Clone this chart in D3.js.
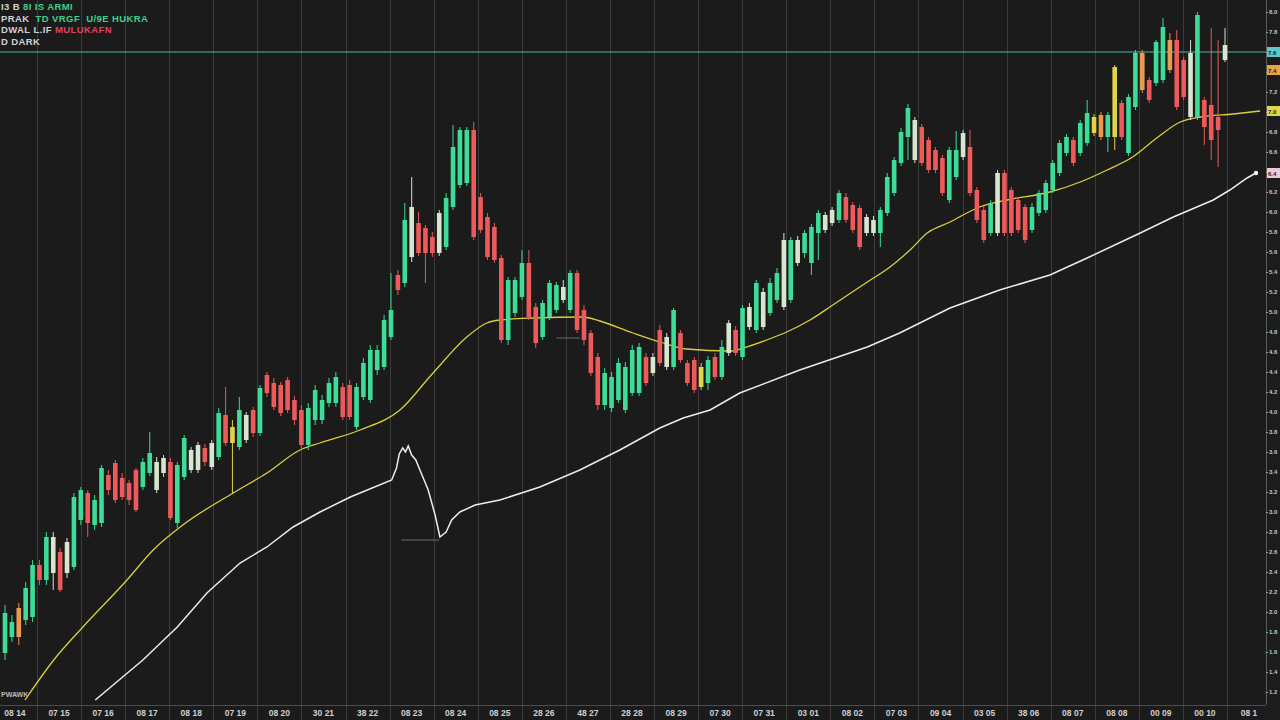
<!DOCTYPE html>
<html><head><meta charset="utf-8">
<script src="https://cdn.jsdelivr.net/npm/d3@7"></script>
<style>html,body{margin:0;padding:0;background:#1b1b1b;overflow:hidden}</style>
</head><body><svg id="c" width="1280" height="720"></svg>
<script>
// ---------- DATA ----------
const candleOpen=[
1.59,1.75,1.75,1.92,1.95,2.47,2.32,2.39,2.60,2.39,
2.45,2.92,3.19,2.87,2.89,3.37,3.49,3.34,3.29,3.42,
3.25,3.39,3.22,3.39,3.50,2.89,3.35,3.42,3.42,3.64,
3.45,3.55,3.97,3.69,3.65,3.72,4.02,3.79,4.37,4.29,
4.27,4.32,4.12,4.02,3.67,3.92,3.92,4.09,4.09,4.25,
4.27,3.85,4.15,4.12,4.42,4.45,4.75,5.37,5.29,5.55,
5.89,5.84,5.75,5.59,5.65,6.05,6.27,6.29,6.82,6.15,
5.95,5.85,5.54,4.72,4.99,5.15,5.49,5.05,4.75,4.95,
5.02,5.12,5.02,5.39,5.02,4.79,4.55,4.07,4.04,4.12,
4.02,4.19,4.19,4.55,4.39,4.82,4.45,4.45,4.79,4.49,
4.52,4.25,4.29,4.55,4.35,4.59,4.82,4.55,4.85,4.82,
4.85,4.99,5.12,5.05,5.12,5.49,5.59,5.49,5.79,5.82,
5.89,5.92,6.15,6.07,6.04,5.79,5.79,5.79,5.99,6.19,
6.49,6.75,6.92,6.85,6.72,6.62,6.54,6.12,6.35,6.55,
6.65,6.22,6.02,5.79,5.79,6.39,6.22,6.12,6.05,5.82,
5.99,6.02,6.22,6.39,6.59,6.72,6.59,6.69,6.79,6.97,
6.75,6.75,7.09,6.59,7.05,7.59,7.32,7.29,7.32,7.72,
7.72,7.52,6.95,6.95,7.12,7.07,6.95,7.52];
const candleHigh=[
2.07,1.97,2.09,2.30,2.52,2.52,2.80,2.80,2.64,2.74,
3.19,3.25,3.22,3.17,3.47,3.42,3.52,3.39,3.32,3.44,
3.54,3.80,3.55,3.57,3.54,3.50,3.77,3.65,3.70,3.68,
3.72,4.04,4.25,3.92,4.15,4.00,4.05,4.27,4.40,4.34,
4.30,4.35,4.16,4.07,4.09,4.27,4.17,4.34,4.40,4.29,
4.32,4.29,4.54,4.67,4.67,4.97,5.39,5.42,6.09,6.35,
6.00,5.87,5.80,6.02,6.19,6.87,6.85,6.85,6.90,6.19,
5.99,5.89,5.57,5.35,5.35,5.62,5.62,5.09,5.12,5.32,
5.30,5.32,5.42,5.42,5.07,4.82,4.59,4.44,4.40,4.54,
4.50,4.67,4.69,4.59,4.59,4.87,4.79,5.04,4.82,4.52,
4.55,4.49,4.56,4.59,4.72,4.92,4.86,5.07,5.09,5.32,
5.24,5.34,5.44,5.79,5.75,5.76,5.82,5.88,6.02,6.00,
6.05,6.22,6.19,6.10,6.07,5.98,5.96,6.05,6.39,6.55,
6.84,7.08,6.95,6.88,6.75,6.65,6.57,6.65,6.81,6.82,
6.82,6.25,6.06,6.12,6.42,6.42,6.25,6.15,6.08,6.09,
6.22,6.32,6.52,6.72,6.78,6.75,6.92,7.12,6.98,7.00,
7.00,7.47,7.12,7.18,7.62,7.62,7.35,7.72,7.94,7.79,
7.82,7.55,7.72,8.00,7.15,7.84,7.72,7.84];
const candleLow=[
1.52,1.70,1.67,1.87,1.90,2.27,2.27,2.22,2.20,2.34,
2.42,2.87,2.75,2.82,2.85,3.17,3.09,3.12,3.07,3.00,
3.22,3.36,3.19,3.35,2.92,2.84,3.32,3.39,3.39,3.46,
3.42,3.52,3.66,3.19,3.62,3.69,3.75,3.76,4.15,4.02,
3.96,3.99,3.87,3.64,3.62,3.87,3.88,4.05,4.05,3.92,
3.92,3.82,4.12,4.09,4.37,4.42,4.72,5.17,5.25,5.50,
5.56,5.29,5.55,5.56,5.62,6.02,6.24,6.26,5.72,5.79,
5.52,5.49,4.69,4.67,4.95,5.12,4.92,4.64,4.72,4.92,
4.99,5.09,4.99,4.79,4.67,4.36,4.02,4.02,4.00,4.09,
3.99,4.16,4.16,4.26,4.36,4.46,4.42,4.42,4.49,4.26,
4.19,4.22,4.22,4.32,4.32,4.56,4.56,4.52,4.82,4.79,
4.82,4.96,5.09,5.02,5.09,5.46,5.54,5.37,5.52,5.79,
5.86,5.89,5.89,5.79,5.62,5.76,5.76,5.65,5.96,6.16,
6.46,6.52,6.49,6.46,6.39,6.39,6.16,6.09,6.32,6.52,
6.16,5.89,5.69,5.76,5.76,5.76,5.76,5.79,5.69,5.79,
5.96,5.99,6.19,6.36,6.56,6.46,6.56,6.66,6.76,6.72,
6.60,6.62,6.72,6.56,7.02,7.19,7.09,7.26,7.29,7.39,
7.02,7.12,6.92,6.92,6.67,6.52,6.45,7.50];
const candleClose=[
1.99,1.90,2.04,2.24,2.47,2.32,2.75,2.75,2.22,2.70,
3.15,3.22,2.89,3.12,3.44,3.22,3.12,3.15,3.12,3.02,
3.50,3.59,3.50,3.54,2.94,3.47,3.74,3.62,3.67,3.50,
3.69,3.99,3.69,3.85,4.02,3.97,3.79,4.24,4.19,4.05,
3.99,4.02,3.92,3.67,4.04,4.22,4.12,4.29,4.35,3.95,
3.95,4.25,4.49,4.62,4.62,4.92,5.02,5.22,5.92,6.05,
5.59,5.59,5.59,5.99,6.14,6.65,6.82,6.82,5.75,5.82,
5.55,5.52,4.72,5.32,5.32,5.49,4.95,4.69,5.09,5.29,
5.27,5.25,5.39,4.82,4.72,4.39,4.07,4.39,4.35,4.49,
4.45,4.62,4.65,4.29,4.55,4.49,4.75,5.02,4.52,4.29,
4.22,4.45,4.52,4.35,4.65,4.89,4.59,5.04,5.05,5.29,
5.20,5.29,5.39,5.72,5.72,5.72,5.79,5.85,5.99,5.97,
6.02,6.19,5.92,5.82,5.65,5.95,5.92,6.02,6.35,6.52,
6.80,7.04,6.52,6.49,6.42,6.42,6.19,6.62,6.62,6.79,
6.19,5.92,5.72,6.09,6.39,5.79,5.79,5.82,5.72,6.05,
6.19,6.29,6.49,6.69,6.75,6.49,6.89,6.99,6.95,6.75,
6.97,7.45,6.75,7.15,7.59,7.22,7.12,7.70,7.85,7.42,
7.05,7.15,7.59,7.97,6.85,6.72,6.82,7.67];
// candle category: g=up r=down w=neutral y=alert o=warning
const candleKind=
"ggoggrgwrw"+"ggrggrrrrr"+"ggwwrggwwr"+"wgrygwrgrr"+"rrrrgggggr"+
"rggggggrgw"+"rrrwggggrr"+"rrrgggrrgg"+"gwgrrrrggg"+"gggrwrwgrr"+
"rygrgwrgwg"+"wggwgwgggw"+"wgrrrwwggg"+"ggwrrrrggw"+"rrrgwrrrrg"+
"gggggrggyo"+"gyrggorggo"+"rrwgrrrw";

// moving averages as [session, value]
const fastAverage=[[2.9,1.12],[7.3,1.54],[11.3,1.85],[17.7,2.32],[21.5,2.62],[25.8,2.87],[33.1,3.19],[38.0,3.39],[42.8,3.62],[45.7,3.69],[51.5,3.82],[57.3,4.02],[62.1,4.39],[67.0,4.75],[69.9,4.89],[71.8,4.92],[76.6,4.94],[83.9,4.95],[86.3,4.91],[91.1,4.79],[95.5,4.69],[98.9,4.63],[105.2,4.61],[107.1,4.64],[110.5,4.72],[113.4,4.80],[116.8,4.92],[120.1,5.07],[125.1,5.30],[128.4,5.45],[131.3,5.62],[133.8,5.79],[137.1,5.90],[141.4,6.05],[145.4,6.12],[151.6,6.20],[156.0,6.30],[159.9,6.42],[163.6,6.55],[167.1,6.74],[170.5,6.90],[173.4,6.95],[178.2,6.98],[182.1,7.01]];
const slowAverage=[[13.1,1.12],[20.0,1.52],[25.0,1.85],[29.3,2.19],[34.1,2.49],[38.0,2.65],[41.8,2.85],[45.7,3.00],[50.1,3.15],[56.1,3.32],[56.8,3.44],[57.2,3.58],[57.7,3.64],[58.1,3.60],[58.5,3.66],[59.0,3.57],[59.6,3.52],[60.2,3.42],[61.4,3.22],[62.4,2.97],[63.1,2.75],[64.0,2.80],[64.8,2.92],[66.0,3.00],[68.2,3.07],[71.8,3.12],[77.6,3.25],[83.4,3.42],[89.2,3.62],[95.0,3.84],[98.4,3.94],[102.3,4.02],[106.6,4.19],[115.3,4.42],[125.1,4.65],[129.8,4.79],[137.1,5.04],[144.3,5.22],[151.6,5.37],[157.0,5.54],[164.7,5.79],[169.5,5.95],[175.3,6.12],[177.7,6.22],[180.2,6.34],[181.5,6.39]];
// faint level segments [fromSession, toSession, value]
const levelSegments=[[57.5,63.0,2.72],[80.0,83.4,4.74]];
const alertLevel=7.60;
const priceTagValues=[7.60,7.42,7.01,6.39];
const priceTagNames=["alert","last","fast","slow"];
const priceTicks=d3.range(12,81,2).map(v=>v/10);
const dateLabels=["08 14","07 15","07 16","08 17","08 18","07 19","08 20","30 21","38 22","08 23","08 24","08 25","28 26","48 27","28 28","08 29","07 30","07 31","03 01","08 02","07 03","09 04","03 05","38 06","08 07","08 08","00 09","00 10","08 1"];
const legendRows=[
  [["I3 B ","#d2d2d2"],["8I IS ARMI","#3fcf8c"]],
  [["PRAK  ","#d2d2d2"],["TD VRGF  U/9E HUKRA","#3fcf8c"]],
  [["DWAL L.IF ","#d2d2d2"],["MULUKAFN","#e2405c"]],
  [["D DARK","#d2d2d2"]]
];
const cornerNote="PWAWK";

// ---------- RENDER ----------
const W=1280,H=720,plotR=1266,plotB=705;
const FONT="Liberation Sans, Arial, sans-serif";
const kindColor={g:"#3ddc97",r:"#ee5a5a",w:"#d8e6d0",y:"#e3d34a",o:"#e89a50"};
const tagColor={alert:"#5ccac6",last:"#e8a545",fast:"#e4d64a",slow:"#eec8de"};
const svg=d3.select("#c");
svg.append("rect").attr("width",W).attr("height",H).attr("fill","#1b1b1b");

const nC=candleOpen.length;
const x=d3.scaleLinear().domain([0,nC-1]).range([5,1225]);
const y=d3.scaleLinear().domain([1.07,8.12]).range([plotB,0]);
const grid=d3.scaleLinear().domain([0,27]).range([37,1227]);

// vertical grid
svg.append("g").selectAll("line").data(d3.range(28)).join("line")
  .attr("x1",d=>Math.round(grid(d))+0.5).attr("x2",d=>Math.round(grid(d))+0.5)
  .attr("y1",0).attr("y2",H).attr("stroke","#3b3b3b").attr("stroke-width",1);

// bottom axis band
svg.append("line").attr("x1",0).attr("x2",plotR).attr("y1",plotB+0.5).attr("y2",plotB+0.5).attr("stroke","#4c4c4c");
svg.append("g").selectAll("text").data(dateLabels).join("text")
  .attr("x",(d,i)=>grid(i-0.5)).attr("y",716).attr("text-anchor","middle")
  .attr("font-family",FONT).attr("font-size",8.5).attr("font-weight","bold")
  .attr("fill","#cfcfcf").text(d=>d);

// right axis
svg.append("rect").attr("x",plotR).attr("y",0).attr("width",W-plotR).attr("height",H).attr("fill","#1c1c1c");
svg.append("line").attr("x1",plotR+0.5).attr("x2",plotR+0.5).attr("y1",0).attr("y2",plotB).attr("stroke","#5a5a5a");
const ax=svg.append("g").attr("transform",`translate(${plotR},0)`)
  .call(d3.axisRight(y).tickValues(priceTicks).tickSize(2).tickPadding(1).tickFormat(d3.format(".1f")));
ax.select(".domain").remove();
ax.selectAll("line").attr("stroke","#9a9a9a");
ax.selectAll("text").attr("fill","#c4c4c4").attr("font-size",6).attr("font-weight","bold").attr("font-family",FONT);

// clip
svg.append("clipPath").attr("id","pc").append("rect").attr("x",0).attr("y",0).attr("width",plotR).attr("height",plotB);
const plot=svg.append("g").attr("clip-path","url(#pc)");

// alert horizontal line
plot.append("line").attr("x1",0).attr("x2",plotR).attr("y1",y(alertLevel)).attr("y2",y(alertLevel))
  .attr("stroke","#4fb6b0").attr("stroke-width",1.1);

// faint levels
plot.append("g").selectAll("line").data(levelSegments).join("line")
  .attr("x1",d=>x(d[0])).attr("x2",d=>x(d[1])).attr("y1",d=>y(d[2])).attr("y2",d=>y(d[2]))
  .attr("stroke","#6a6a6a").attr("stroke-width",1);

// moving averages
plot.append("path").datum(slowAverage).attr("fill","none").attr("stroke","#ececec").attr("stroke-width",1.5)
  .attr("d",d3.line().x(d=>x(d[0])).y(d=>y(d[1])));
plot.append("path").datum(fastAverage).attr("fill","none").attr("stroke","#d9cf3e").attr("stroke-width",1.3)
  .attr("d",d3.line().x(d=>x(d[0])).y(d=>y(d[1])).curve(d3.curveMonotoneX));
const lastSlow=slowAverage[slowAverage.length-1];
plot.append("circle").attr("cx",x(lastSlow[0])).attr("cy",y(lastSlow[1])).attr("r",2.2).attr("fill","#f4f4f4");

// candles
const idx=d3.range(nC);
const cg=plot.append("g");
cg.selectAll("line").data(idx).join("line")
  .attr("x1",i=>x(i)).attr("x2",i=>x(i))
  .attr("y1",i=>y(candleHigh[i])).attr("y2",i=>y(candleLow[i]))
  .attr("stroke",i=>kindColor[candleKind[i]]).attr("stroke-width",1.1).attr("opacity",0.9);
const bw=4.6;
cg.selectAll("rect").data(idx).join("rect")
  .attr("x",i=>x(i)-bw/2).attr("width",bw)
  .attr("y",i=>y(Math.max(candleOpen[i],candleClose[i])))
  .attr("height",i=>Math.max(1,Math.abs(y(candleOpen[i])-y(candleClose[i]))))
  .attr("fill",i=>kindColor[candleKind[i]]);

// price tags
const tags=svg.append("g");
priceTagValues.forEach((v,k)=>{
  const cy=y(v);
  tags.append("rect").attr("x",plotR+1).attr("y",cy-5).attr("width",W-plotR-1).attr("height",10)
    .attr("fill",tagColor[priceTagNames[k]]);
  tags.append("text").attr("x",plotR+2).attr("y",cy+2.5).attr("font-size",6).attr("font-weight","bold")
    .attr("font-family",FONT).attr("fill","#1b1b1b").text(d3.format(".1f")(v));
});

// legend
const lg=svg.append("g").attr("font-family",FONT).attr("font-size",9.5).attr("font-weight","bold").attr("letter-spacing",0.4);
legendRows.forEach((row,r)=>{
  const t=lg.append("text").attr("x",1).attr("y",10+r*11.5);
  row.forEach(([s,c])=>t.append("tspan").attr("fill",c).attr("xml:space","preserve").text(s));
});
svg.append("text").attr("x",1).attr("y",697).attr("font-size",7).attr("font-weight","bold")
  .attr("font-family",FONT).attr("fill","#b8b8b8").text(cornerNote);
</script></body></html>
